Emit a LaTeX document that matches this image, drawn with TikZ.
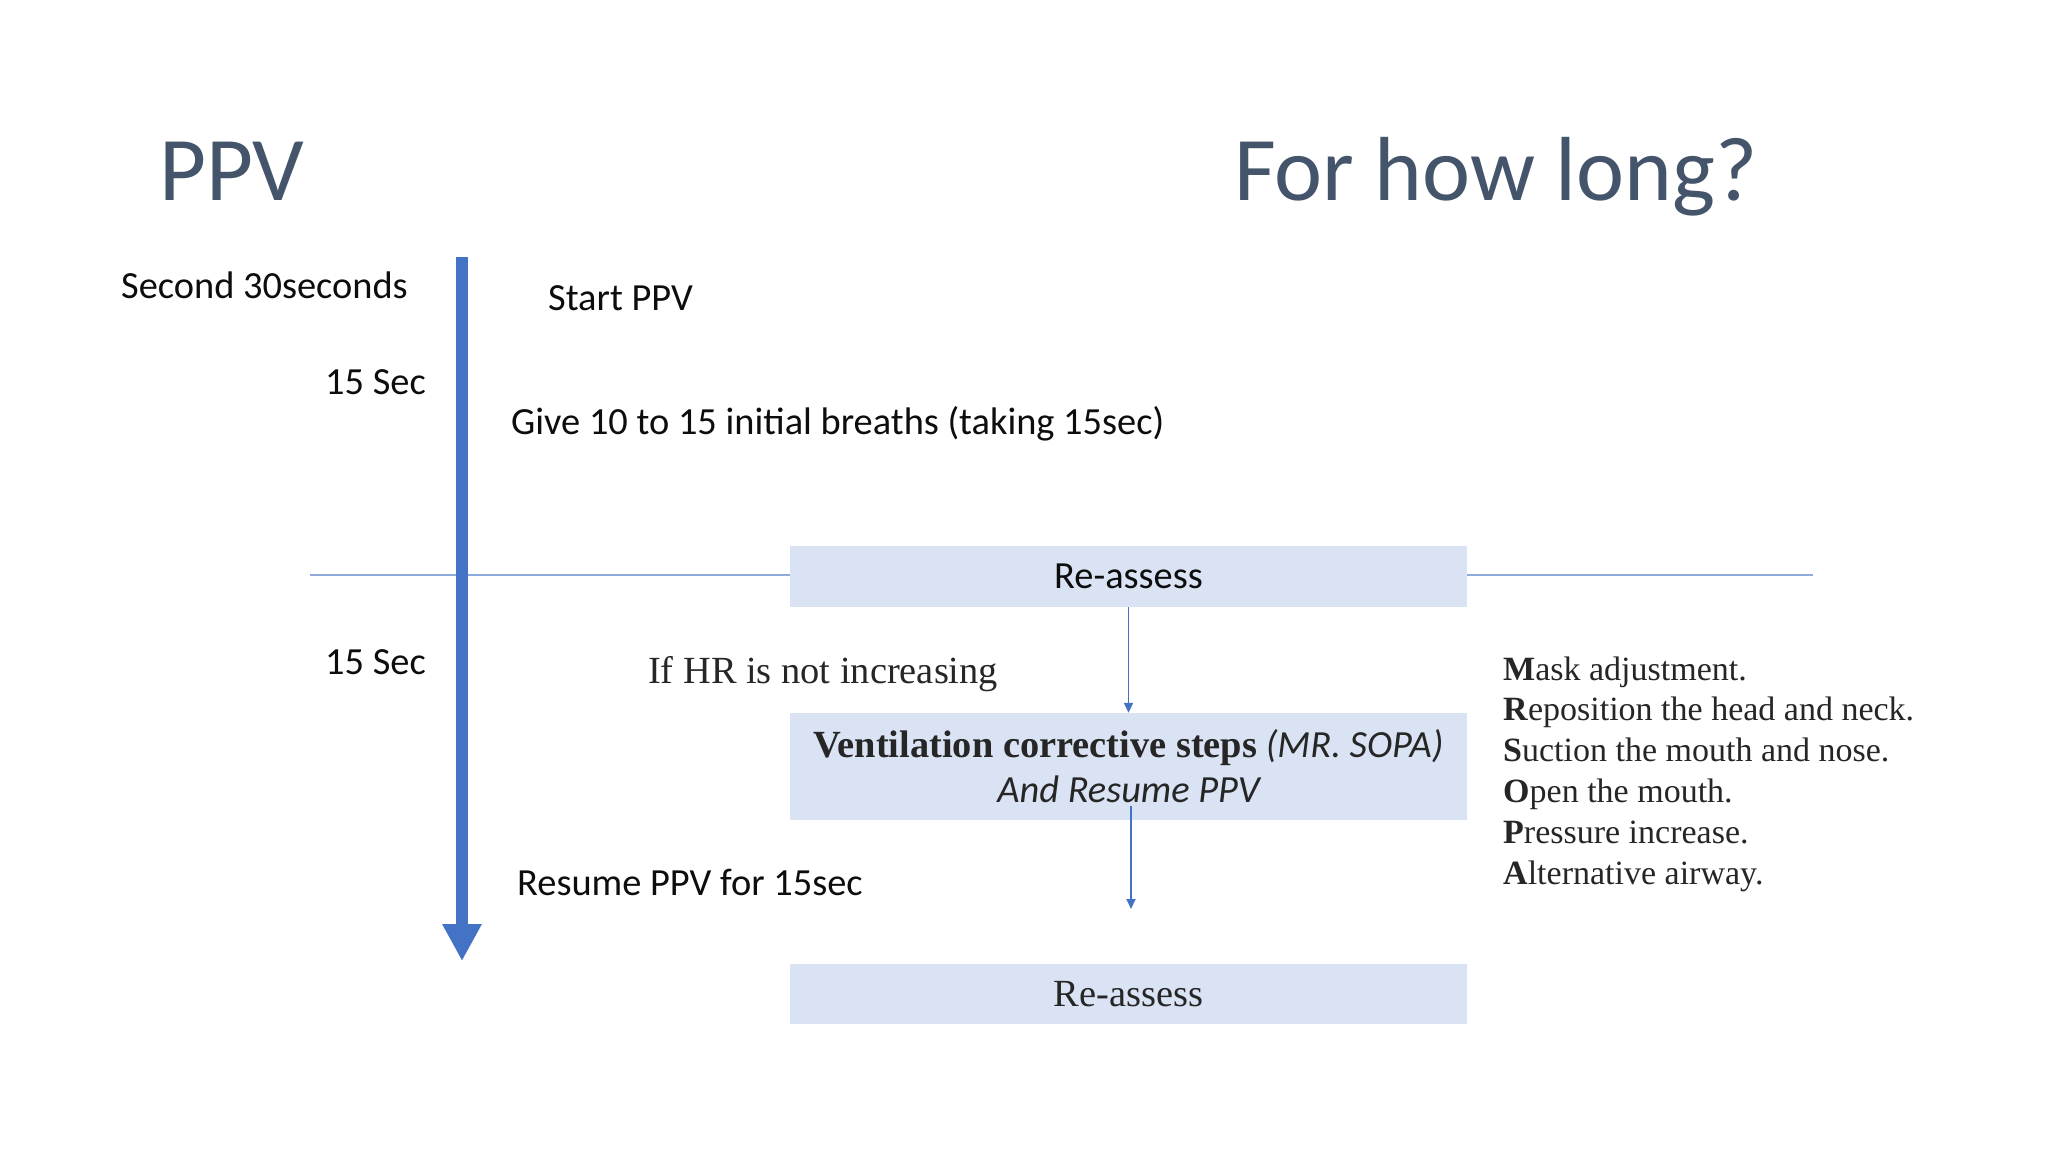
\documentclass[tikz,border=0pt]{standalone}
\usepackage{fontspec}
\setmainfont{Carlito}
\newfontfamily\tnr{Liberation Serif}
\usetikzlibrary{arrows.meta}
\definecolor{titlecol}{HTML}{44546A}
\definecolor{arrowblue}{HTML}{4472C4}
\definecolor{boxfill}{HTML}{DAE3F3}
\definecolor{hlinecol}{HTML}{8FAADC}
\definecolor{txt}{HTML}{0D0D0D}
\definecolor{serifcol}{HTML}{262626}
\begin{document}
\begin{tikzpicture}[x=1pt,y=-1pt,
  titletext/.style={font=\fontsize{91}{108}\selectfont, text=titlecol, inner sep=0pt, anchor=base west},
  body/.style={font=\fontsize{38.4}{46}\selectfont, text=txt, inner sep=0pt, anchor=base west},
  serifbody/.style={font=\tnr\fontsize{38.4}{46}\selectfont, text=serifcol, inner sep=0pt, anchor=base west},
  boxst/.style={fill=boxfill, minimum width=677pt, inner sep=0pt, align=center},
  flowarrow/.style={draw=arrowblue, line width=1.8pt, -{Triangle[width=9pt,length=10pt]}},
  timeline/.style={draw=arrowblue, line width=12pt, -{Triangle[width=37pt,length=37pt]}}
]
\useasboundingbox[fill=white] (0,0) rectangle (2048,1152);

% titles
\node[titletext] (ppv) at (159,200) {PPV};
\node[titletext] (howlong) at (1234,200) {For how long?};

% separator line
\coordinate (hl) at (310,575);
\coordinate (hr) at (1813,575);
\draw[hlinecol, line width=2.2pt] (hl) -- (hr);

% timeline arrow
\coordinate (ttop) at (462,257);
\coordinate (tend) at (462,961);
\draw[timeline] (ttop) -- (tend);

% left labels
\node[body] (second) at (121,298) {Second 30seconds};
\node[body, anchor=base east] (sec1) at (426,394) {15 Sec};
\node[body, anchor=base east] (sec2) at (426,674) {15 Sec};

% middle labels
\node[body] (start) at (548,310) {Start PPV};
\node[body] (give) at (511,434) {Give 10 to 15 initial breaths (taking 15sec)};
\node[serifbody] (ifhr) at (648,683) {If HR is not increasing};
\node[body] (resume) at (517,895) {Resume PPV for 15sec};

% boxes
\node[boxst, minimum height=61pt, font=\fontsize{38.4}{46}\selectfont, text=txt] (b1) at (1128.5,576.5) {Re-assess};
\node[boxst, minimum height=107pt, font=\fontsize{38.4}{46}\selectfont, text=serifcol] (b2) at (1128.5,766.5)
  {{\tnr\bfseries Ventilation corrective steps} {\itshape(MR. SOPA)}\\[-1pt] {\itshape And Resume PPV}};
\node[boxst, minimum height=60pt, font=\tnr\fontsize{38.4}{46}\selectfont, text=serifcol] (b3) at (1128.5,994) {Re-assess};

% flow arrows
\draw[flowarrow] (b1.south) -- (b2.north);
\coordinate (a2end) at (1131,909);
\draw[flowarrow] ([xshift=2.5pt,yshift=14pt]b2.south) -- (a2end);

% MR SOPA list
\node[font=\tnr\fontsize{34}{40.8}\selectfont, text=serifcol, inner sep=0pt, anchor=base west, align=left] (sopa) at (1503,884)
  {\textbf{M}ask adjustment.\\
   \textbf{R}eposition the head and neck.\\
   \textbf{S}uction the mouth and nose.\\
   \textbf{O}pen the mouth.\\
   \textbf{P}ressure increase.\\
   \textbf{A}lternative airway.};
\end{tikzpicture}
\end{document}
